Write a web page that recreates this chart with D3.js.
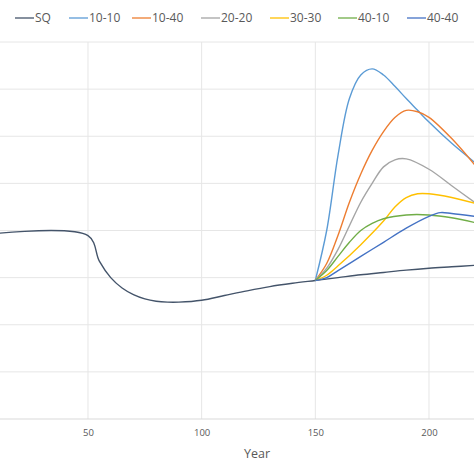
<!DOCTYPE html><html><head><meta charset="utf-8"><script src="https://cdn.jsdelivr.net/npm/d3@7"></script>
<style>body{margin:0;background:#fff}text{font-family:"Open Sans",Calibri,sans-serif;fill:#595959}</style></head><body><svg width="474" height="474"></svg>
<script>
const seriesNames=["SQ","10-10","10-40","20-20","30-30","40-10","40-40"];
const colors=["#44546A","#5B9BD5","#ED7D31","#A5A5A5","#FFC000","#70AD47","#4472C4"];
const xTicks=[50,100,150,200];
const sq=[[0,3.89],[50,3.89],[55,3.35],[60,3.0],[65,2.78],[70,2.64],[75,2.55],[80,2.5],[85,2.48],[90,2.48],[100,2.52],[110,2.62],[120,2.72],[130,2.81],[140,2.88],[150,2.94],[160,3.0],[170,3.06],[180,3.11],[190,3.16],[200,3.2],[210,3.23],[220,3.26]];
const s1010=[[150,2.94],[155,4.0],[160,5.6],[165,6.8],[170,7.3],[175,7.43],[180,7.3],[185,7.06],[190,6.8],[195,6.55],[200,6.3],[210,5.85],[220,5.45]];
const s1040=[[150,2.94],[155,3.3],[160,3.9],[165,4.6],[170,5.2],[175,5.7],[180,6.1],[185,6.4],[190,6.55],[195,6.52],[200,6.4],[210,5.95],[220,5.4]];
const s2020=[[150,2.94],[155,3.2],[160,3.6],[165,4.1],[170,4.6],[175,5.0],[180,5.35],[185,5.5],[190,5.52],[200,5.3],[210,4.95],[220,4.6]];
const s3030=[[150,2.94],[155,3.05],[160,3.25],[170,3.7],[180,4.2],[185,4.5],[190,4.7],[195,4.78],[200,4.78],[210,4.7],[220,4.58]];
const s4010=[[150,2.94],[155,3.15],[160,3.45],[165,3.75],[170,4.0],[175,4.15],[180,4.25],[190,4.33],[200,4.33],[210,4.27],[220,4.17]];
const s4040=[[150,2.94],[155,3.0],[160,3.15],[170,3.45],[180,3.75],[190,4.05],[200,4.3],[205,4.38],[210,4.36],[220,4.3]];
const data=[sq,s1010,s1040,s2020,s3030,s4010,s4040];
const svg=d3.select("svg");
const x=d3.scaleLinear().domain([11.3,219.8]).range([0,474]);
const y=d3.scaleLinear().domain([0,8]).range([419,42]);
const g=svg.append("g");
g.selectAll(".hg").data(d3.range(1,9)).join("line").attr("x1",0).attr("x2",474).attr("y1",d=>y(d)).attr("y2",d=>y(d)).attr("stroke","#e6e6e6");
g.selectAll(".vg").data(xTicks).join("line").attr("x1",d=>x(d)).attr("x2",d=>x(d)).attr("y1",y(8)).attr("y2",y(0)).attr("stroke","#e6e6e6");
g.append("line").attr("x1",0).attr("x2",474).attr("y1",y(0)).attr("y2",y(0)).attr("stroke","#d9d9d9");
const ax=svg.append("g").attr("transform",`translate(0,${y(0)})`).call(d3.axisBottom(x).tickValues(xTicks).tickSize(0).tickPadding(10));
ax.select(".domain").remove();ax.selectAll("text").style("font-size","9.5px").attr("fill","#595959");
svg.append("text").attr("x",257).attr("y",458).attr("text-anchor","middle").style("font-size","12.5px").text("Year");
const line=d3.line().x(d=>x(d[0])).y(d=>y(d[1])).curve(d3.curveCatmullRom.alpha(0.5));
svg.selectAll(".s").data(data).join("path").attr("d",line).attr("fill","none").attr("stroke",(d,i)=>colors[i]).attr("stroke-width",1.4);
const lx=[15,69,132,201,270,338,407];
const lg=svg.selectAll(".lg").data(seriesNames).join("g").attr("transform",(d,i)=>`translate(${lx[i]},18)`);
lg.append("line").attr("x1",0).attr("x2",19).attr("stroke",(d,i)=>colors[i]).attr("stroke-width",1.3);
lg.append("text").attr("x",20).attr("dy","0.35em").style("font-size","12px").text(d=>d);
</script></body></html>
